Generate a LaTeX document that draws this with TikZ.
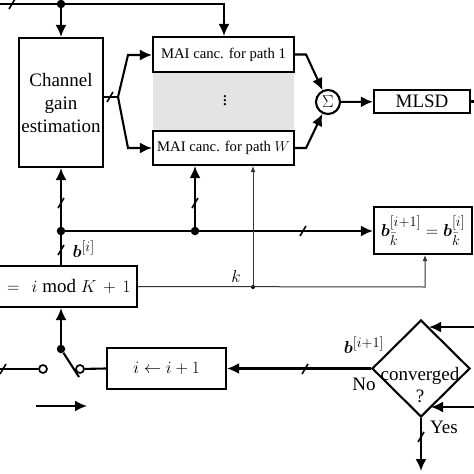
\documentclass[tikz,border=0pt]{standalone}
\usepackage{amsmath,bm}
\usepackage{fontspec}
\setmainfont{Liberation Serif}
\usetikzlibrary{arrows.meta,shapes.geometric,calc}
\definecolor{graybg}{HTML}{E4E4E4}
\newcommand\slsh[1]{\draw[line width=1.6pt] ($(#1)+(-3,5)$) -- ($(#1)+(3,-5)$);}
\begin{document}
\begin{tikzpicture}[x=1pt,y=-1pt,
  font=\fontsize{19}{23}\selectfont,
  ln/.style={line width=2.1pt},
  arr/.style={line width=2.1pt,-{Latex[length=12pt,width=11pt]}},
  tarr/.style={line width=1pt,black!80,-{Latex[length=6pt,width=5pt]}},
  box/.style={draw,line width=2.1pt,inner sep=2pt},
  smallfont/.style={font=\fontsize{14.7}{17}\selectfont},
  dot/.style={circle,fill,inner sep=0pt,minimum size=8.5pt},
  odot/.style={circle,draw,fill=white,line width=1.7pt,inner sep=0pt,minimum size=8pt}]
\useasboundingbox (0,0) rectangle (474,474);
\clip (0,0) rectangle (474,474);

% gray region between the MAI boxes
\fill[graybg] (153,72) rectangle (294,131);
\node (vd) at (225,98) {$\vdots$};

% blocks
\node[box,minimum width=84,minimum height=129,align=center] (chan) at (61,102.5) {Channel\\gain\\estimation};
\node[box,smallfont,minimum width=141,minimum height=35] (mai1) at (223.5,54.5) {MAI canc. for path 1};
\node[box,smallfont,minimum width=141,minimum height=34] (maiW) at (223.5,148) {MAI canc. for path $W$};
\node[circle,draw,line width=2.1pt,minimum size=24,inner sep=0pt] (sum) at (328,102) {$\Sigma$};
\node[box,minimum width=96,minimum height=23,inner sep=1pt] (mlsd) at (422,101.5) {MLSD};
\node[box,minimum width=98,minimum height=47] (bup) at (423,230.5) {$\bm b_{\bar k}^{[i+1]} = \bm b_{\bar k}^{[i]}$};
\node[box,minimum width=217,minimum height=41,text width=204,align=right] (modb) at (28.5,286.5) {$k = i \bmod K+1$};
\node[box,minimum width=119,minimum height=41] (inc) at (166.5,368.5) {$i \leftarrow i+1$};
\node[diamond,draw,line width=2.1pt,minimum width=98,minimum height=97,inner sep=0pt] (conv) at (421,368.5) {};
\node[align=center] (convt) at (420,385) {converged\\[-1pt]?};

% junction dots and switch contacts
\node[dot] (d0) at (61,4) {};
\node[dot] (d1) at (61,231) {};
\node[dot] (d2) at (195,231) {};
\node[dot,minimum size=4pt] (d3) at (253,287) {};
\node[dot] (sw) at (61,349) {};
\node[odot] (c1) at (80,369) {};
\node[odot] (c2) at (43,369) {};

% free ends
\coordinate (tl) at (0,4);
\coordinate (tr) at (224,4);
\coordinate (br) at (118,97);
\coordinate (bu) at (128,55);
\coordinate (bd) at (128,148);
\coordinate (mr) at (474,101.5);
\coordinate (lv) at (79,377);
\coordinate (lf) at (0,369);
\coordinate (yb) at (421,471);
\coordinate (r1) at (474,327);
\coordinate (t1) at (429,327);
\coordinate (r2) at (474,407);
\coordinate (t2) at (431,407);
\coordinate (kr) at (425,287);
\coordinate (ba) at (36,406);
\coordinate (bb) at (87,406);

% thick connectors
\draw[ln] (tl) -- (d0);
\draw[arr] (d0) -- (tr) -- (tr |- mai1.north);
\draw[arr] (d0) -- (chan.north);
\draw[ln] (chan.east |- br) -- (br);
\draw[arr] (br) -- (bu) -- (bu -| mai1.west);
\draw[arr] (br) -- (bd) -- (bd -| maiW.west);
\draw[arr] (mai1.east) -- ++(11,0) -- (sum);
\draw[arr] (maiW.east) -- ++(11,0) -- (sum);
\draw[arr] (sum) -- (mlsd);
\draw[ln] (mlsd.east) -- (mr);
\draw[arr] (d1) -- (chan.south);
\draw[arr] (d2) -- (d2 |- maiW.south);
\draw[arr] (d1) -- (d1 -| bup.west);
\draw[ln] (d1 |- modb.north) -- (d1);
\draw[arr] (sw) -- (sw |- modb.south);
\draw[ln] (sw) -- (lv);
\draw[ln] (inc.west) -- (c1);
\draw[ln] (lf) -- (c2);
\draw[arr] (conv.west) -- (inc.east);
\draw[arr] (conv.south) -- (yb);
\draw[arr] (r1) -- (t1);
\draw[arr] (r2) -- (t2);
\draw[arr] (ba) -- (bb);

% thin k signal
\draw[tarr] (modb.east) -- (kr) -- (kr |- bup.south);
\draw[tarr] (d3) -- (d3 |- maiW.south);

% bus slashes
\slsh{12,4}
\slsh{110,97}
\slsh{61,203}
\slsh{195,203}
\slsh{61,250}
\slsh{303,231}
\slsh{305,369}
\slsh{421,437}
\slsh{3,369}

% labels
\node (klab) at (236,276) {$k$};
\node[anchor=west] (lbi) at (69,249) {$\bm b^{[i]}$};
\node (lbi1) at (364,345) {$\bm b^{[i+1]}$};
\node (lno) at (364,384) {No};
\node (lyes) at (444,427) {Yes};
\end{tikzpicture}
\end{document}
